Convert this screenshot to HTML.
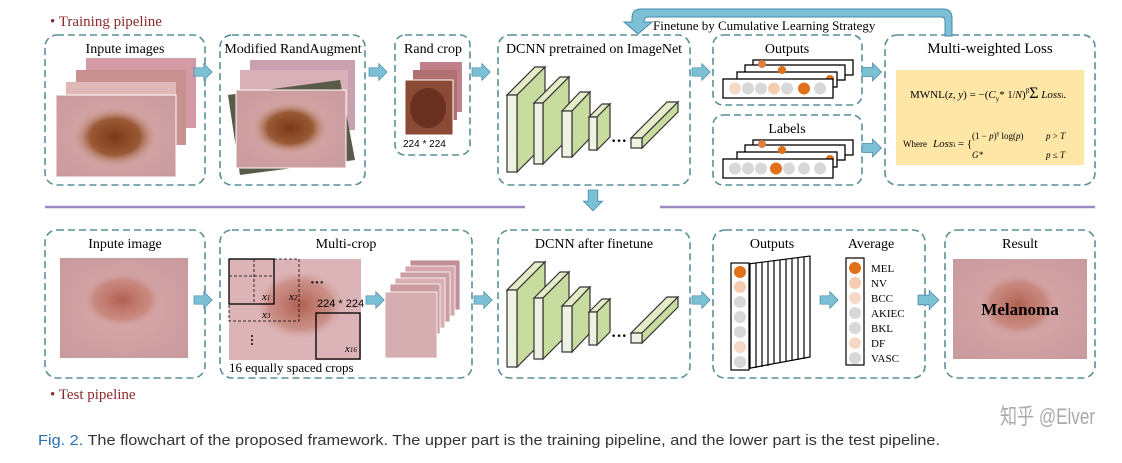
<!DOCTYPE html>
<html><head><meta charset="utf-8"><style>
html,body{margin:0;padding:0;background:#fff}
svg{display:block}
</style></head><body>
<svg width="1122" height="463" viewBox="0 0 1122 463" xmlns="http://www.w3.org/2000/svg" font-family="Liberation Serif, serif">
<defs>
<radialGradient id="skin" cx="50%" cy="50%" r="70%"><stop offset="0" stop-color="#d9a8a8"/><stop offset="1" stop-color="#c89a9e"/></radialGradient>
<radialGradient id="les" cx="50%" cy="50%" r="50%"><stop offset="0" stop-color="#7a3a1a"/><stop offset="0.6" stop-color="#9a5a35"/><stop offset="1" stop-color="#c9a090" stop-opacity="0"/></radialGradient>
<radialGradient id="les2" cx="50%" cy="50%" r="50%"><stop offset="0" stop-color="#b06050"/><stop offset="0.7" stop-color="#c07868" stop-opacity="0.6"/><stop offset="1" stop-color="#d6a8aa" stop-opacity="0"/></radialGradient>
<g id="arr"><polygon points="0,-6 14,-6 14,-12 26,0 14,12 14,6 0,6" fill="#7cc0d6" stroke="#4a8aa8" stroke-width="1"/></g>
</defs>
<g fill="none" stroke="#5a8f9a" stroke-width="1.6" stroke-dasharray="7,4">
<rect x="45" y="35" width="160" height="150" rx="12"/>
<rect x="220" y="35" width="145" height="150" rx="12"/>
<rect x="395" y="35" width="75" height="120" rx="10"/>
<rect x="498" y="35" width="192" height="150" rx="12"/>
<rect x="713" y="35" width="149" height="70" rx="10"/>
<rect x="713" y="115" width="149" height="70" rx="10"/>
<rect x="885" y="35" width="210" height="150" rx="12"/>
<rect x="45" y="230" width="160" height="148" rx="12"/>
<rect x="220" y="230" width="252" height="148" rx="12"/>
<rect x="498" y="230" width="192" height="148" rx="12"/>
<rect x="713" y="230" width="212" height="148" rx="12"/>
<rect x="945" y="230" width="150" height="148" rx="12"/>
</g>
<text x="50" y="26" font-size="15" fill="#8b2a2a">•  Training pipeline</text>
<text x="50" y="399" font-size="15" fill="#8b2a2a">•  Test pipeline</text>
<line x1="45" y1="207" x2="525" y2="207" stroke="#9a8ac0" stroke-width="2.5"/>
<line x1="660" y1="207" x2="1095" y2="207" stroke="#9a8ac0" stroke-width="2.5"/>
<!-- finetune arrow -->
<path d="M945,36 L945,21 Q945,17 941,17 L648,17 Q644,17 644,21 L644,22 L652,22 L638,34 L624,22 L632,22 L632,18 Q632,9 641,9 L943,9 Q952,9 952,18 L952,36 Z" fill="#7cc0d6" stroke="#4a8aa8"/>
<text x="653" y="30" font-size="13">Finetune by Cumulative Learning Strategy</text>
<!-- labels -->
<g font-size="14" text-anchor="middle">
<text x="125" y="53">Inpute images</text>
<text x="293" y="53">Modified RandAugment</text>
<text x="433" y="53">Rand crop</text>
<text x="594" y="53">DCNN pretrained on ImageNet</text>
<text x="787" y="53">Outputs</text>
<text x="787" y="133">Labels</text>
<text x="990" y="53" font-size="15">Multi-weighted Loss</text>
<text x="125" y="248">Inpute image</text>
<text x="346" y="248">Multi-crop</text>
<text x="594" y="248">DCNN after finetune</text>
<text x="772" y="248">Outputs</text>
<text x="871" y="248">Average</text>
<text x="1020" y="248">Result</text>
</g>
<!-- input images stack -->
<rect x="86" y="58" width="110" height="70" fill="#d49aa6"/>
<rect x="76" y="70" width="110" height="75" fill="#c99090"/>
<rect x="66" y="82" width="110" height="80" fill="#e0b8b8"/>
<rect x="56" y="95" width="120" height="82" fill="url(#skin)" stroke="#fff"/>
<ellipse cx="115" cy="137" rx="42" ry="30" fill="url(#les)"/>
<!-- randaugment -->
<rect x="250" y="60" width="105" height="70" fill="#c8a0b0"/>
<rect x="240" y="70" width="108" height="72" fill="#d8b0b8"/>
<polygon points="228,95 340,80 355,160 240,175" fill="#5a5a48"/>
<rect x="236" y="90" width="110" height="78" fill="url(#skin)" stroke="#fff"/>
<ellipse cx="290" cy="128" rx="38" ry="26" fill="url(#les)"/>
<!-- rand crop -->
<rect x="420" y="62" width="42" height="50" fill="#c07f8a"/>
<rect x="413" y="70" width="44" height="50" fill="#b07070"/>
<rect x="405" y="80" width="48" height="55" fill="#8a4a35" stroke="#fff"/>
<ellipse cx="428" cy="108" rx="18" ry="20" fill="#6a3020"/>
<text x="403" y="147" font-size="10" font-family="Liberation Sans, sans-serif">224 * 224</text>
<!-- DCNN top -->
<g stroke="#333" stroke-width="1.2" id="cnn">
<polygon points="507,95 535,67 545,67 517,95" fill="#e4ecc8"/><polygon points="517,95 545,67 545,144 517,172" fill="#c8dca0"/><rect x="507" y="95" width="10" height="77" fill="#eef2e2"/>
<polygon points="534,103 560,77 569,77 543,103" fill="#e4ecc8"/><polygon points="543,103 569,77 569,138 543,164" fill="#c8dca0"/><rect x="534" y="103" width="9" height="61" fill="#eef2e2"/>
<polygon points="562,111 580,92 590,92 572,111" fill="#e4ecc8"/><polygon points="572,111 590,92 590,138 572,157" fill="#c8dca0"/><rect x="562" y="111" width="10" height="46" fill="#eef2e2"/>
<polygon points="589,117 602,104 610,104 597,117" fill="#e4ecc8"/><polygon points="597,117 610,104 610,137 597,150" fill="#c8dca0"/><rect x="589" y="117" width="8" height="33" fill="#eef2e2"/>
<polygon points="631,138 667,102 678,102 642,138" fill="#e4ecc8"/><polygon points="642,138 678,102 678,112 642,148" fill="#c8dca0"/><rect x="631" y="138" width="11" height="10" fill="#eef2e2"/>
</g>
<text x="611" y="146" font-size="16" font-weight="bold">···</text>
<use href="#cnn" transform="translate(0,195)"/>
<text x="611" y="341" font-size="16" font-weight="bold">···</text>
<!-- outputs stacks -->
<g id="stk" stroke="#000" stroke-width="1.3">
<rect x="753" y="60" width="100" height="15" fill="#fff"/>
<rect x="745" y="65" width="100" height="15" fill="#fff"/>
<rect x="737" y="72" width="100" height="15" fill="#fff"/>
<circle cx="762" cy="64" r="4" fill="#e08040" stroke="none"/>
<circle cx="782" cy="70" r="4" fill="#e0701a" stroke="none"/>
<circle cx="830" cy="79" r="4" fill="#e0701a" stroke="none"/>
<rect x="723" y="79" width="110" height="19" fill="#fff"/>
</g>
<g stroke="none">
<circle cx="735" cy="88.5" r="6" fill="#f5d8c8"/><circle cx="748" cy="88.5" r="6" fill="#d8d8d8"/><circle cx="761" cy="88.5" r="6" fill="#d8d8d8"/><circle cx="774" cy="88.5" r="6" fill="#f5ccb0"/><circle cx="787" cy="88.5" r="6" fill="#d8d8d8"/><circle cx="804" cy="88.5" r="6" fill="#e0701a"/><circle cx="820" cy="88.5" r="6" fill="#d8d8d8"/>
</g>
<use href="#stk" transform="translate(0,80)"/>
<g stroke="none">
<circle cx="735" cy="168.5" r="6" fill="#d8d8d8"/><circle cx="748" cy="168.5" r="6" fill="#d8d8d8"/><circle cx="761" cy="168.5" r="6" fill="#d8d8d8"/><circle cx="776" cy="168.5" r="6" fill="#e0701a"/><circle cx="789" cy="168.5" r="6" fill="#d8d8d8"/><circle cx="804" cy="168.5" r="6" fill="#d8d8d8"/><circle cx="820" cy="168.5" r="6" fill="#d8d8d8"/>
</g>
<!-- loss formula -->
<rect x="896" y="70" width="188" height="95" fill="#fde6a6"/>
<g font-size="11">
<text x="910" y="98">MWNL(<tspan font-style="italic">z</tspan>, <tspan font-style="italic">y</tspan>) = −(<tspan font-style="italic">C</tspan><tspan font-size="7" dy="3">y</tspan><tspan dy="-3">*</tspan> <tspan font-size="10">1/<tspan font-style="italic">N</tspan></tspan>)<tspan font-size="7" dy="-5">β</tspan><tspan dy="5" font-size="16">Σ</tspan> <tspan font-style="italic">Loss</tspan><tspan font-size="7">i</tspan>.</text>
<text x="903" y="147" font-size="9">Where</text>
<text x="933" y="147"><tspan font-style="italic">Loss</tspan><tspan font-size="7">i</tspan> = {</text>
<text x="972" y="139" font-size="9">(1 − <tspan font-style="italic">p</tspan>)<tspan font-size="6" dy="-4">γ</tspan><tspan dy="4"> log(</tspan><tspan font-style="italic">p</tspan>)</text>
<text x="972" y="158" font-size="9"><tspan font-style="italic">G*</tspan></text>
<text x="1046" y="139" font-size="9"><tspan font-style="italic">p</tspan> &gt; <tspan font-style="italic">T</tspan></text>
<text x="1046" y="158" font-size="9"><tspan font-style="italic">p</tspan> ≤ <tspan font-style="italic">T</tspan></text>
</g>
<!-- arrows top -->
<use href="#arr" transform="translate(194,72) scale(0.7)"/>
<use href="#arr" transform="translate(369,72) scale(0.7)"/>
<use href="#arr" transform="translate(472,72) scale(0.7)"/>
<use href="#arr" transform="translate(692,72) scale(0.7)"/>
<use href="#arr" transform="translate(862,72) scale(0.75)"/>
<use href="#arr" transform="translate(862,148) scale(0.75)"/>
<use href="#arr" transform="translate(593,190) rotate(90) scale(0.8)"/>
<!-- arrows bottom -->
<use href="#arr" transform="translate(194,300) scale(0.7)"/>
<use href="#arr" transform="translate(366,300) scale(0.7)"/>
<use href="#arr" transform="translate(474,300) scale(0.7)"/>
<use href="#arr" transform="translate(692,300) scale(0.7)"/>
<use href="#arr" transform="translate(820,300) scale(0.7)"/>
<use href="#arr" transform="translate(918,300) scale(0.8)"/>
<!-- input image bottom -->
<rect x="60" y="258" width="128" height="100" fill="url(#skin)"/>
<ellipse cx="122" cy="300" rx="40" ry="28" fill="url(#les2)"/>
<!-- multicrop -->
<rect x="229" y="259" width="132" height="101" fill="#dcb4b8"/>
<ellipse cx="300" cy="305" rx="45" ry="35" fill="url(#les2)"/>
<g fill="none" stroke="#000" stroke-width="0.8" stroke-dasharray="3,2">
<rect x="229" y="259" width="70" height="62"/><line x1="229" y1="276" x2="274" y2="276"/><line x1="254" y1="259" x2="254" y2="304"/><line x1="229" y1="304" x2="274" y2="304"/>
</g>
<g fill="none" stroke="#000" stroke-width="1.3">
<rect x="229" y="259" width="45" height="45"/><rect x="316" y="313" width="44" height="46"/>
</g>
<g font-size="11" font-style="italic">
<text x="262" y="300">x<tspan font-size="7">1</tspan></text><text x="289" y="300">x<tspan font-size="7">2</tspan></text><text x="262" y="318">x<tspan font-size="7">3</tspan></text><text x="345" y="352">x<tspan font-size="7">16</tspan></text>
</g>
<text x="310" y="287" font-size="14" font-weight="bold">···</text>
<text x="250" y="340" font-size="12" font-weight="bold" transform="rotate(90 252 336)">···</text>
<text x="317" y="307" font-size="11" font-family="Liberation Sans, sans-serif">224 * 224</text>
<text x="229" y="372" font-size="13">16 equally spaced crops</text>
<g stroke="#fff" stroke-width="0.8">
<rect x="410" y="260" width="50" height="50" fill="#c49098"/><rect x="405" y="266" width="50" height="50" fill="#d4a8ac"/>
<rect x="400" y="272" width="50" height="50" fill="#caa0a4"/><rect x="395" y="278" width="50" height="50" fill="#d8b0b4"/>
<rect x="390" y="284" width="50" height="50" fill="#c89ca0"/><rect x="385" y="292" width="52" height="66" fill="#d6aeb2"/>
</g>
<!-- outputs bottom -->
<g fill="#fff" stroke="#000" stroke-width="1.2">
<polygon points="740,265 810,256 810,357 740,370"/>
<line x1="742" y1="265" x2="742" y2="370"/><line x1="750" y1="264" x2="750" y2="369"/><line x1="756" y1="263" x2="756" y2="368"/><line x1="762" y1="262" x2="762" y2="367"/><line x1="768" y1="261" x2="768" y2="366"/><line x1="774" y1="261" x2="774" y2="364"/><line x1="780" y1="260" x2="780" y2="363"/><line x1="786" y1="259" x2="786" y2="362"/><line x1="792" y1="258" x2="792" y2="361"/><line x1="798" y1="258" x2="798" y2="360"/><line x1="804" y1="257" x2="804" y2="359"/>
<rect x="731" y="263" width="18" height="107"/>
<rect x="846" y="258" width="18" height="107"/>
</g>
<g stroke="none">
<circle cx="740" cy="272" r="6" fill="#e0701a"/><circle cx="740" cy="287" r="6" fill="#f5ccb0"/><circle cx="740" cy="302" r="6" fill="#d8d8d8"/><circle cx="740" cy="317" r="6" fill="#d8d8d8"/><circle cx="740" cy="332" r="6" fill="#d8d8d8"/><circle cx="740" cy="347" r="6" fill="#f5d8c8"/><circle cx="740" cy="362" r="6" fill="#d8d8d8"/>
<circle cx="855" cy="268" r="6" fill="#e0701a"/><circle cx="855" cy="283" r="6" fill="#f5ccb0"/><circle cx="855" cy="298" r="6" fill="#f5d8c8"/><circle cx="855" cy="313" r="6" fill="#d8d8d8"/><circle cx="855" cy="328" r="6" fill="#d8d8d8"/><circle cx="855" cy="343" r="6" fill="#f5d8c8"/><circle cx="855" cy="358" r="6" fill="#d8d8d8"/>
</g>
<g font-size="11">
<text x="871" y="272">MEL</text><text x="871" y="287">NV</text><text x="871" y="302">BCC</text><text x="871" y="317">AKIEC</text><text x="871" y="332">BKL</text><text x="871" y="347">DF</text><text x="871" y="362">VASC</text>
</g>
<!-- result -->
<rect x="953" y="259" width="134" height="100" fill="url(#skin)"/>
<ellipse cx="1018" cy="305" rx="40" ry="32" fill="url(#les2)"/>
<text x="1020" y="315" font-size="17" font-weight="bold" text-anchor="middle">Melanoma</text>
<!-- caption -->
<text x="1000" y="424" font-size="22" fill="#aaa" textLength="95" lengthAdjust="spacingAndGlyphs" font-family="Liberation Sans, Noto Sans CJK SC, sans-serif">知乎 @Elver</text>
<text x="38" y="445" font-size="15" textLength="902" lengthAdjust="spacingAndGlyphs" font-family="Liberation Sans, sans-serif" fill="#333"><tspan fill="#2a6fb0">Fig. 2.</tspan>  The flowchart of the proposed framework. The upper part is the training pipeline, and the lower part is the test pipeline.</text>
</svg>
</body></html>
